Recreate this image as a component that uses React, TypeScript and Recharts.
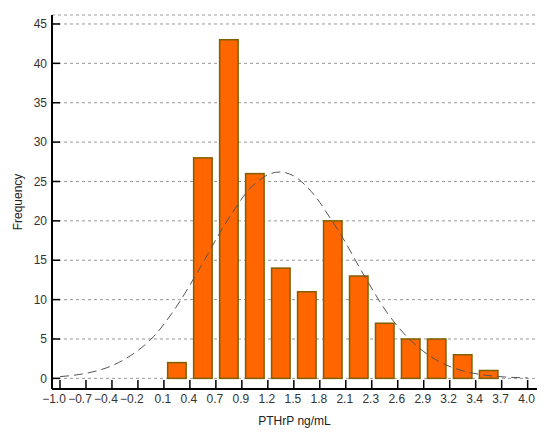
import React from 'react';
import { ComposedChart, Bar, Line, XAxis, YAxis, CartesianGrid } from 'recharts';

// bin edges of the histogram (also the x tick positions)
const xTicks = [
    -1.0, -0.7222, -0.4444, -0.1667, 0.1111, 0.3889, 0.6667, 0.9444, 1.2222, 1.5,
    1.7778, 2.0556, 2.3333, 2.6111, 2.8889, 3.1667, 3.4444, 3.7222, 4.0,
];
const xTickLabels = [
    '−1.0', '−0.7', '−0.4', '−0.2', '0.1', '0.4', '0.7', '0.9', '1.2', '1.5',
    '1.8', '2.1', '2.3', '2.6', '2.9', '3.2', '3.4', '3.7', '4.0',
];

// counts per bin
const frequencies = [0, 0, 0, 0, 2, 28, 43, 26, 14, 11, 20, 13, 7, 5, 5, 3, 1, 0];

// fitted normal curve
const curveX = [
    -1.0, -0.75, -0.5, -0.25, 0, 0.25, 0.5, 0.75, 0.875, 1.0, 1.125, 1.25, 1.35,
    1.5, 1.625, 1.75, 1.875, 2.0, 2.25, 2.5, 2.75, 3.0, 3.25, 3.5, 3.75, 4.0,
];
const curveY = [
    0.22, 0.58, 1.35, 2.85, 5.3, 9.2, 14.1, 19.3, 21.6, 23.7, 25.1, 26.0, 26.2,
    25.7, 24.5, 22.8, 20.6, 18.3, 13.1, 8.3, 4.8, 2.5, 1.15, 0.48, 0.18, 0.06,
];

const yTicks = [0, 5, 10, 15, 20, 25, 30, 35, 40, 45];

const barData = frequencies.map((count, i) => ({
    x: (xTicks[i] + xTicks[i + 1]) / 2,
    count,
}));
const curveData = curveX.map((x, i) => ({ x, fit: curveY[i] }));

const FONT = '"Liberation Sans", Arial, sans-serif';
const BAR_W = 18.5;
const TICK_LEN = 9;
const GAP = 5;

const BarShape = (props: any) => {
    const { x, y, width, height } = props;
    if (!height) return null;
    const cx = x + width / 2;
    return (
        <rect
            x={cx - BAR_W / 2}
            y={y}
            width={BAR_W}
            height={height}
            fill="#FF6600"
            stroke="#7F6000"
            strokeWidth={1.5}
        />
    );
};

// x ticks point up into the plot, labels below the axis
const XTick = (props: any) => {
    const { x, y, payload } = props;
    const idx = xTicks.indexOf(payload.value);
    const label = idx >= 0 ? xTickLabels[idx] : String(payload.value);
    const shift = label.startsWith('−') ? -6 : -1;
    const axisY = y - GAP;
    return (
        <g>
            <line x1={x} x2={x} y1={axisY} y2={axisY - TICK_LEN} stroke="#000" strokeWidth={1.5} />
            <text x={x + shift} y={y} dy="0.71em" textAnchor="middle" fill="#333" fontSize={12} fontFamily={FONT}>
                {label}
            </text>
        </g>
    );
};

// y ticks point right into the plot
const YTick = (props: any) => {
    const { x, y, payload } = props;
    const axisX = x + GAP;
    return (
        <g>
            <line x1={axisX} x2={axisX + 8} y1={y} y2={y} stroke="#000" strokeWidth={1.5} />
            <text x={x} y={y} dy="0.355em" textAnchor="end" fill="#333" fontSize={12} fontFamily={FONT}>
                {payload.value}
            </text>
        </g>
    );
};

export default function App() {
    return (
        <div style={{ position: 'absolute', left: 0, top: 0, background: '#fff' }}>
            <ComposedChart
                width={550}
                height={436}
                data={barData}
                margin={{ top: 15, right: 13, bottom: 0, left: 0 }}
            >
                <CartesianGrid vertical={false} stroke="#999" strokeDasharray="3 3" />
                <XAxis
                    dataKey="x"
                    type="number"
                    domain={[-1.0855, 4.1]}
                    allowDataOverflow
                    ticks={xTicks}
                    interval={0}
                    height={47}
                    tickSize={0}
                    tickMargin={GAP}
                    tick={<XTick />}
                    tickLine={false}
                    axisLine={{ stroke: '#000', strokeWidth: 2 }}
                    label={{
                        value: 'PTHrP ng/mL',
                        position: 'insideBottom',
                        offset: 11,
                        fill: '#222',
                        fontSize: 12,
                        fontFamily: FONT,
                    }}
                />
                <YAxis
                    type="number"
                    domain={[-1.35, 46.14]}
                    allowDataOverflow
                    ticks={yTicks}
                    interval={0}
                    width={52}
                    tickSize={0}
                    tickMargin={GAP}
                    tick={<YTick />}
                    tickLine={false}
                    axisLine={{ stroke: '#000', strokeWidth: 2 }}
                    label={{
                        value: 'Frequency',
                        angle: -90,
                        position: 'insideLeft',
                        offset: 18,
                        fill: '#222',
                        fontSize: 12,
                        fontFamily: FONT,
                        style: { textAnchor: 'middle' },
                    }}
                />
                <Bar dataKey="count" shape={<BarShape />} isAnimationActive={false} />
                <Line
                    data={curveData}
                    dataKey="fit"
                    type="monotone"
                    stroke="#555"
                    strokeWidth={1}
                    strokeDasharray="9 5"
                    dot={false}
                    activeDot={false}
                    isAnimationActive={false}
                />
            </ComposedChart>
        </div>
    );
}
